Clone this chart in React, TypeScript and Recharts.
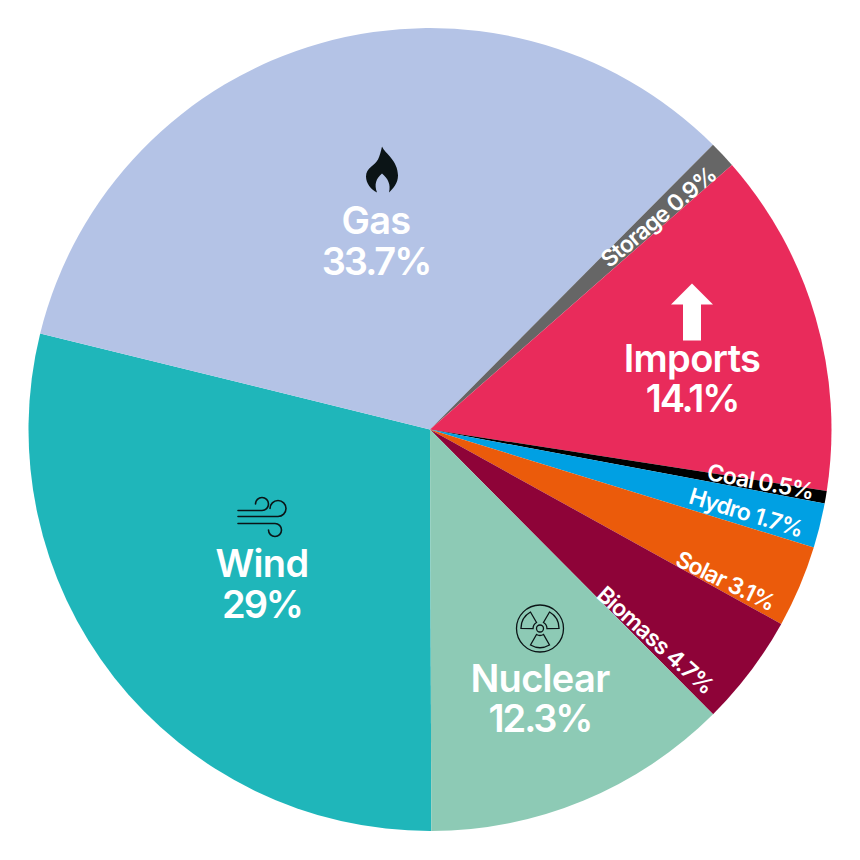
import React from "react";
import { PieChart, Pie, Cell } from "recharts";

const names = ["Wind", "Gas", "Storage", "Imports", "Coal", "Hydro", "Solar", "Biomass", "Nuclear"];
// Printed percentages, as the labels show them
const printed = ["29%", "33.7%", "0.9%", "14.1%", "0.5%", "1.7%", "3.1%", "4.7%", "12.3%"];
const arcShares = [28.9, 33.6, 1.1, 13.9, 0.5, 1.8, 3.3, 4.5, 12.4];
const colors = ["#1FB6BA", "#B4C3E6", "#666666", "#E92B5B", "#000000", "#00A0E3", "#EB5B0B", "#8E0338", "#8DCAB5"];

const rows = names.map((name, i) => ({ name, share: arcShares[i], printed: printed[i] }));

const FONT = "Inter, 'Liberation Sans', sans-serif";
const INK = "#0B1416";

// Offsets of the large labels from the pie's centre (x, first baseline, second baseline)
const bigLabelAt: Record<string, [number, number, number]> = {
  Gas: [-54, -196, -155],
  Wind: [-168, 147, 188],
  Imports: [262, -58, -18],
  Nuclear: [110, 262, 302],
};

// End of the baseline of the small labels, from the pie's centre, and their rotation
const smallLabelAt: Record<string, [number, number, number]> = {
  Storage: [288, -252, -40],
  Coal: [382, 70, 10.5],
  Hydro: [370, 108, 17],
  Solar: [340, 182, 26],
  Biomass: [275, 266, 42],
};

const Flame = () => (
  <path
    fill={INK}
    d="M1,-23 C4,-16 17,-9 17,6 C17,14 12,19 8,23 C10,15 7,9 1,4 C-5,9 -7,15 -4,23 C-10,20 -15,14 -15,7 C-15,-2 -6,-4 -3,-10 C-1,-14 0,-19 1,-23 Z"
  />
);

const WindIcon = () => (
  <g fill="none" stroke={INK} strokeWidth={1.6} strokeLinecap="round">
    <path d="M-24,-6 H0 A6.5,6.5 0 1 0 -6.5,-12.5" />
    <path d="M-24,0 H16 A8,8 0 1 0 8,-8" />
    <path d="M-24,7 H13 A6.5,6.5 0 1 1 6.5,13.5" />
  </g>
);

const BLADE = "M-3.5,6 L-9.5,16.5 A19,19 0 0 0 9.5,16.5 L3.5,6 A7,7 0 0 1 -3.5,6 Z";
const NuclearIcon = () => (
  <g fill="none" stroke={INK} strokeWidth={1.3}>
    <circle r={23.5} />
    <circle r={3.5} />
    <path d={BLADE} />
    <path d={BLADE} transform="rotate(120)" />
    <path d={BLADE} transform="rotate(240)" />
  </g>
);

const Arrow = () => <path fill="#FFFFFF" d="M0,-29 L21,-8 H9 V28 H-9 V-8 H-21 Z" />;

const iconAt: Record<string, { dx: number; dy: number; draw: () => React.ReactElement }> = {
  Gas: { dx: -49, dy: -260, draw: Flame },
  Wind: { dx: -168, dy: 87, draw: WindIcon },
  Imports: { dx: 262, dy: -117, draw: Arrow },
  Nuclear: { dx: 110, dy: 199, draw: NuclearIcon },
};

const renderLabel = (p: any) => {
  const { cx, cy, name, payload } = p;
  const big = bigLabelAt[name];
  const pct = payload.printed;
  if (big) {
    const icon = iconAt[name];
    const Icon = icon.draw;
    return (
      <g key={name}>
        <g transform={`translate(${cx + icon.dx},${cy + icon.dy})`}>
          <Icon />
        </g>
        <text
          textAnchor="middle"
          fill="#FFFFFF"
          fontFamily={FONT}
          fontWeight={600}
          fontSize={38}
        >
          <tspan x={cx + big[0]} y={cy + big[1]} letterSpacing={-0.7}>{name}</tspan>
          <tspan x={cx + big[0]} y={cy + big[2]} letterSpacing={-2.1}>{pct}</tspan>
        </text>
      </g>
    );
  }
  const s = smallLabelAt[name];
  const x = cx + s[0];
  const y = cy + s[1];
  return (
    <text
      key={name}
      x={x}
      y={y}
      textAnchor="end"
      fill="#FFFFFF"
      fontFamily={FONT}
      fontWeight={600}
      fontSize={23}
      letterSpacing={-0.85}
      transform={`rotate(${s[2]} ${x} ${y})`}
    >
      {name} {pct}
    </text>
  );
};

export default function App() {
  return (
    <div style={{ position: "absolute", left: 0, top: 0, width: 860, height: 860 }}>
      <PieChart width={860} height={860} margin={{ top: 0, right: 0, bottom: 0, left: 0 }}>
        <Pie
          data={rows}
          dataKey="share"
          nameKey="name"
          cx={430}
          cy={429.5}
          innerRadius={0}
          outerRadius={401.5}
          startAngle={270.19}
          endAngle={-89.81}
          stroke="none"
          paddingAngle={0}
          labelLine={false}
          label={renderLabel}
          isAnimationActive={false}
        >
          {rows.map((r, i) => (
            <Cell key={r.name} fill={colors[i]} />
          ))}
        </Pie>
      </PieChart>
    </div>
  );
}
